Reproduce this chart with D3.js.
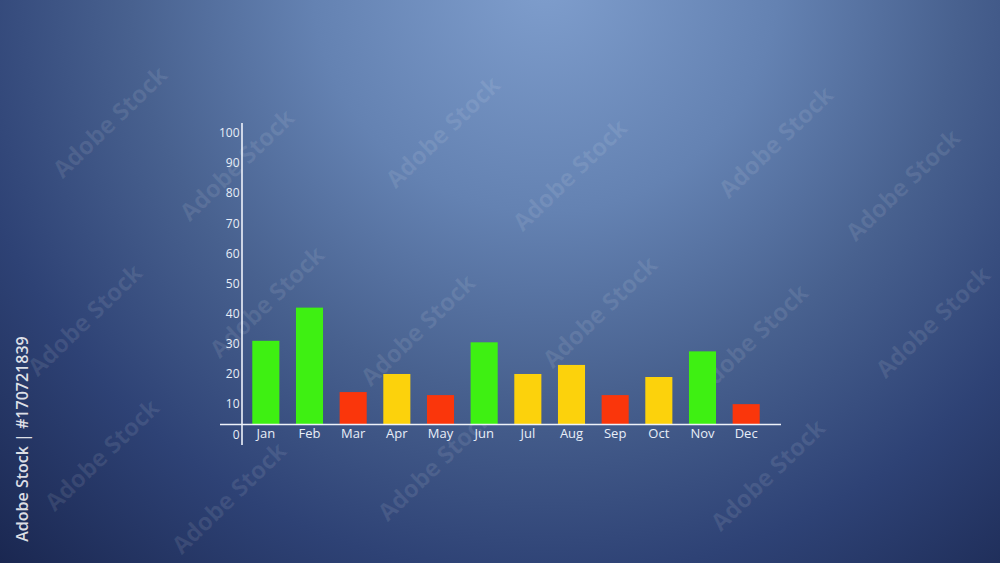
<!DOCTYPE html>
<html>
<head>
<meta charset="utf-8">
<script src="https://cdn.jsdelivr.net/npm/d3@7"></script>
<style>
  html, body { margin: 0; padding: 0; background: #2c3f6c; }
  svg { display: block; }
  .tick text { font-family: "Open Sans", sans-serif; }
</style>
</head>
<body>
<div id="chart"></div>
<script>
// monthly values
var months = ['Jan', 'Feb', 'Mar', 'Apr', 'May', 'Jun', 'Jul', 'Aug', 'Sep', 'Oct', 'Nov', 'Dec'];
var values = [31, 42, 14, 20, 13, 30.5, 20, 23, 13, 19, 27.5, 10];
// level of each month (drives bar colour)
var levels = ['good', 'good', 'bad', 'ok', 'bad', 'good', 'ok', 'ok', 'bad', 'ok', 'good', 'bad'];
var y_ticks = [0, 10, 20, 30, 40, 50, 60, 70, 80, 90, 100];

var width  = 1000;
var height = 563;
var base_y = 424.5;   // where the horizontal axis line sits

var svg = d3.select('#chart')
            .append('svg')
            .attr('width', width)
            .attr('height', height);

// background: soft radial light from the top
var defs = svg.append('defs');
var grad = defs.append('radialGradient')
               .attr('id', 'bg')
               .attr('gradientUnits', 'userSpaceOnUse')
               .attr('cx', 545).attr('cy', -20).attr('r', 830);
grad.append('stop').attr('offset', 0).attr('stop-color', '#7f9ecd');
grad.append('stop').attr('offset', 0.28).attr('stop-color', '#6482b2');
grad.append('stop').attr('offset', 0.5).attr('stop-color', '#48618f');
grad.append('stop').attr('offset', 0.72).attr('stop-color', '#2e4275');
grad.append('stop').attr('offset', 1).attr('stop-color', '#17234b');

svg.append('rect')
   .attr('width', width)
   .attr('height', height)
   .attr('fill', 'url(#bg)');

// faint diagonal watermark pattern (only the ones that fit in the frame)
var marks = [];
var cell = [[110, 122], [237, 165], [85, 320], [267, 302]];
for (var i = -2; i < 5; i++) {
  for (var j = -2; j < 4; j++) {
    cell.forEach(function(p) {
      var x = p[0] + i * 333 - j * 8;
      var y = p[1] + i * 10 + j * 333;
      if (x > 62 && x < width - 62 && y > 60 && y < height - 60) marks.push([x, y]);
    });
  }
}
svg.append('g')
   .selectAll('text')
   .data(marks)
   .enter()
   .append('text')
   .attr('transform', function(d) { return 'translate(' + d[0] + ',' + d[1] + ') rotate(-44)'; })
   .attr('text-anchor', 'middle')
   .attr('dy', '0.35em')
   .attr('font-family', '"Open Sans", sans-serif')
   .attr('font-weight', 700)
   .attr('font-size', 24)
   .attr('fill', '#ffffff')
   .attr('fill-opacity', 0.09)
   .text('Adobe Stock');

// scales
var x_scale = d3.scaleBand()
                .domain(months)
                .range([244, 768])
                .paddingInner(0.38)
                .paddingOuter(0.19);
var y_scale = d3.scaleLinear()
                .domain([0, 100])
                .range([434.3, 132.7]);
var color = d3.scaleOrdinal()
              .domain(['good', 'ok', 'bad'])
              .range(['#3ef012', '#fcd20c', '#fa360b']);

// bars
svg.append('g')
   .selectAll('rect')
   .data(values)
   .enter()
   .append('rect')
   .attr('x', function(d, i) { return x_scale(months[i]); })
   .attr('y', function(d) { return y_scale(d); })
   .attr('width', x_scale.bandwidth())
   .attr('height', function(d) { return base_y - y_scale(d); })
   .attr('fill', function(d, i) { return color(levels[i]); });

// y axis labels
var y_axis = d3.axisLeft(y_scale)
               .tickValues(y_ticks)
               .tickSize(0)
               .tickPadding(0);
var gy = svg.append('g')
            .attr('transform', 'translate(239.5,0)')
            .call(y_axis);
gy.select('.domain').remove();
gy.selectAll('text')
  .attr('fill', '#e8eef8')
  .attr('font-size', 12);

// x axis labels
var x_axis = d3.axisBottom(x_scale).tickSize(0).tickPadding(0);
var gx = svg.append('g')
            .attr('transform', 'translate(0,' + (base_y + 4) + ')')
            .call(x_axis);
gx.select('.domain').remove();
gx.selectAll('text')
  .attr('fill', '#e8eef8')
  .attr('font-size', 13);

// axis lines
svg.append('line')
   .attr('x1', 242).attr('x2', 242)
   .attr('y1', 123).attr('y2', 445)
   .attr('stroke', '#eef2fa').attr('stroke-width', 1.6);
svg.append('line')
   .attr('x1', 220).attr('x2', 781)
   .attr('y1', base_y).attr('y2', base_y)
   .attr('stroke', '#eef2fa').attr('stroke-width', 1.6);

// vertical stock id on the left
svg.append('text')
   .attr('transform', 'translate(28,439) rotate(-90)')
   .attr('text-anchor', 'middle')
   .attr('font-family', '"Open Sans", sans-serif')
   .attr('font-weight', 600)
   .attr('font-size', 16)
   .attr('fill', '#ffffff')
   .attr('fill-opacity', 0.85)
   .text('Adobe Stock | #170721839');
</script>
</body>
</html>
